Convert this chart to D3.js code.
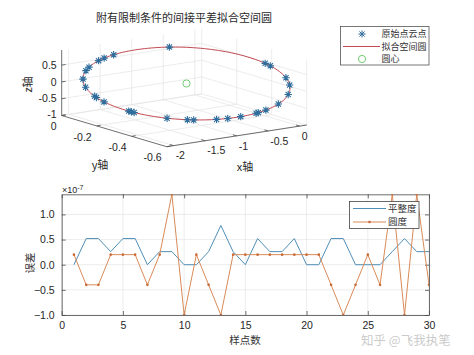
<!DOCTYPE html>
<html>
<head>
<meta charset="utf-8">
<script src="https://cdn.jsdelivr.net/npm/d3@7"></script>
<style>
  body { margin: 0; background: #fff; }
  svg { display: block; }
</style>
</head>
<body>
<div id="container"></div>
<script>
// ---- data: bottom chart (x1e-7) ----
const samples = [1, 2, 3, 4, 5, 6, 7, 8, 9, 10, 11, 12, 13, 14, 15, 16, 17, 18, 19, 20, 21, 22, 23, 24, 25, 26, 27, 28, 29, 30];
const flatness = [0, 0.52, 0.52, 0.26, 0.52, 0.52, 0, 0.26, 0.26, 0, 0, 0.26, 0.78, 0.26, 0,
                  0.52, 0.26, 0.26, 0.52, 0, 0, 0.52, 0.52, 0, 0, 0, 0.26, 0.52, 0.26, 0.26];
const roundness = [0.2, -0.4, -0.4, 0.2, 0.2, 0.2, -0.4, 0.2, 1.4, -1, 0.2, -0.4, -1, 0.2, 0.2,
                   0.2, 0.2, 0.2, 0.2, 0.2, 0.2, -0.4, -1, -0.4, 0.2, -0.4, 1.4, -1, 1.4, -0.4];
const xTicks = [0, 5, 10, 15, 20, 25, 30];
const yTicks = [-1, -0.5, 0, 0.5, 1];

// ---- data: 3D chart ----
const xLim = [-2.11, 0.11];
const yLim = [-0.6, 0];
const zLim = [-1, 0.95];
const xTicks3 = [-2, -1.5, -1, -0.5, 0];
const yTicks3 = [0, -0.2, -0.4, -0.6];
const zTicks3 = [-1, -0.5, 0, 0.5];
const circleCenter = [-1, -0.313, 0.114];
const circleU = [0.9944, -0.2331, -0.0595];
const circleV = [-0.0669, -0.0241, -1.0207];
// position of each raw point along the fitted circle (degrees)
const pointAngles = [10.6, 27.4, 39.9, 46.1, 47.7, 58.4, 66.5, 73.1, 86.0, 89.5, 100.8, 120.4, 122.2, 123.9,
                     142.8, 150.5, 152.5, 167.1, 180.0, 193.7, 199.7, 211.9, 217.3, 225.3, 260.5, 319.5,
                     324.1, 344.0, 355.4];

const cjk = "'Noto Sans CJK SC', sans-serif";
const num = "'Liberation Sans', Arial, sans-serif";

const svg = d3.select("#container").append("svg")
  .attr("width", 474)
  .attr("height", 355)
  .style("font-family", num);

// ================= 3D plot =================
const box = { ox: 61.7, oy: 115.5, ex: [140, -21.7], ey: [105, 31.2], ez: [0, -65.5] };
const xs = d3.scaleLinear().domain(xLim).range([0, 1]);
const ys = d3.scaleLinear().domain([yLim[1], yLim[0]]).range([0, 1]);
const zs = d3.scaleLinear().domain(zLim).range([0, 1]);

function proj(x, y, z) {
  const u = xs(x), v = ys(y), w = zs(z);
  return [box.ox + u * box.ex[0] + v * box.ey[0] + w * box.ez[0],
          box.oy + u * box.ex[1] + v * box.ey[1] + w * box.ez[1]];
}

const g3 = svg.append("g");
const seg = (p, q, color, w) => g3.append("line")
  .attr("x1", p[0]).attr("y1", p[1]).attr("x2", q[0]).attr("y2", q[1])
  .attr("stroke", color).attr("stroke-width", w);

const [x0, x1] = xLim, [y0, y1] = yLim, [z0, z1] = zLim;
const gridC = "#e4e4e4";

// floor grid
xTicks3.forEach(x => seg(proj(x, y1, z0), proj(x, y0, z0), gridC, 0.7));
yTicks3.forEach(y => seg(proj(x0, y, z0), proj(x1, y, z0), gridC, 0.7));
// back wall (y = 0)
xTicks3.forEach(x => seg(proj(x, y1, z0), proj(x, y1, z1), gridC, 0.7));
zTicks3.forEach(z => seg(proj(x0, y1, z), proj(x1, y1, z), gridC, 0.7));
// right wall (x = max)
yTicks3.forEach(y => seg(proj(x1, y, z0), proj(x1, y, z1), gridC, 0.7));
zTicks3.forEach(z => seg(proj(x1, y1, z), proj(x1, y0, z), gridC, 0.7));

// axis lines
const axC = "#4a4a4a";
seg(proj(x0, y1, z0), proj(x0, y1, z1), axC, 0.8);
seg(proj(x0, y1, z0), proj(x0, y0, z0), axC, 0.8);
seg(proj(x0, y0, z0), proj(x1, y0, z0), axC, 0.8);

const unit = v => { const l = Math.hypot(v[0], v[1]); return [v[0] / l, v[1] / l]; };
const ux = unit(box.ex), uy = unit([-box.ey[0], -box.ey[1]]);

zTicks3.forEach(z => {
  const p = proj(x0, y1, z);
  seg(p, [p[0] + ux[0] * 4, p[1] + ux[1] * 4], axC, 0.8);
  g3.append("text").attr("x", p[0] - 5).attr("y", p[1] - (z === -1 ? 1 : 0)).attr("dy", "0.35em")
    .attr("text-anchor", "end").attr("font-size", 10.5).attr("fill", "#262626").text(z);
});
yTicks3.forEach(y => {
  const p = proj(x0, y, z0);
  seg(p, [p[0] + ux[0] * 4, p[1] + ux[1] * 4], axC, 0.8);
  g3.append("text").attr("x", p[0] - 5).attr("y", p[1] + 11).attr("dy", "0.35em")
    .attr("text-anchor", "end").attr("font-size", 10.5).attr("fill", "#262626").text(y);
});
xTicks3.forEach(x => {
  const p = proj(x, y0, z0);
  seg(p, [p[0] + uy[0] * 4, p[1] + uy[1] * 4], axC, 0.8);
  g3.append("text").attr("x", p[0] + 2).attr("y", p[1] + 10).attr("dy", "0.35em")
    .attr("text-anchor", "start").attr("font-size", 10.5).attr("fill", "#262626").text(x);
});

// axis titles
g3.append("text").attr("x", 245).attr("y", 167).attr("dy", "0.35em").attr("text-anchor", "middle")
  .attr("font-size", 11).attr("fill", "#262626").style("font-family", cjk).text("x轴");
g3.append("text").attr("x", 100).attr("y", 165).attr("dy", "0.35em").attr("text-anchor", "middle")
  .attr("font-size", 11).attr("fill", "#262626").style("font-family", cjk).text("y轴");
g3.append("text").attr("transform", "translate(28,84.5) rotate(-90)").attr("dy", "0.35em")
  .attr("text-anchor", "middle").attr("font-size", 11).attr("fill", "#262626")
  .style("font-family", cjk).text("z轴");

// fitted circle
const rad = d => d * Math.PI / 180;
const circPt = deg => {
  const c = Math.cos(rad(deg)), s = Math.sin(rad(deg));
  return proj(circleCenter[0] + circleU[0] * c + circleV[0] * s,
              circleCenter[1] + circleU[1] * c + circleV[1] * s,
              circleCenter[2] + circleU[2] * c + circleV[2] * s);
};
g3.append("path")
  .attr("d", d3.line()(d3.range(0, 361, 2).map(circPt)))
  .attr("fill", "none").attr("stroke", "#c24a52").attr("stroke-width", 1);

// raw points (asterisks)
const starPath = r => {
  const k = r * Math.SQRT1_2;
  return `M${-r},0L${r},0M0,${-r}L0,${r}M${-k},${-k}L${k},${k}M${-k},${k}L${k},${-k}`;
};
g3.selectAll("path.star").data(pointAngles).enter().append("path")
  .attr("class", "star")
  .attr("transform", d => `translate(${circPt(d)})`)
  .attr("d", starPath(3.7))
  .attr("stroke", "#2f6d9c").attr("stroke-width", 1.1).attr("fill", "none");

// centre
const cp = proj(circleCenter[0], circleCenter[1], circleCenter[2]);
g3.append("circle").attr("cx", cp[0]).attr("cy", cp[1]).attr("r", 3.6)
  .attr("fill", "none").attr("stroke", "#74cc74").attr("stroke-width", 1);

// title
svg.append("text").attr("x", 184).attr("y", 18).attr("dy", "0.35em").attr("text-anchor", "middle")
  .attr("font-size", 11).attr("fill", "#2a2a2a").style("font-family", cjk)
  .text("附有限制条件的间接平差拟合空间圆");

// legend (3D)
const leg3 = svg.append("g");
leg3.append("rect").attr("x", 340.5).attr("y", 26.5).attr("width", 88.5).attr("height", 38.5)
  .attr("fill", "#fff").attr("stroke", "#555").attr("stroke-width", 0.8);
leg3.append("path").attr("transform", "translate(362,34)").attr("d", starPath(3.6))
  .attr("stroke", "#2f6d9c").attr("stroke-width", 1);
leg3.append("line").attr("x1", 343).attr("x2", 380).attr("y1", 46.5).attr("y2", 46.5)
  .attr("stroke", "#c24a52").attr("stroke-width", 1);
leg3.append("circle").attr("cx", 362).attr("cy", 59).attr("r", 3.6)
  .attr("fill", "none").attr("stroke", "#74cc74").attr("stroke-width", 1);
["原始点云点", "拟合空间圆", "圆心"].forEach((t, i) => {
  leg3.append("text").attr("x", 381.5).attr("y", 34 + i * 12.5).attr("dy", "0.35em")
    .attr("font-size", 9).attr("fill", "#333").style("font-family", cjk).text(t);
});

// ================= error plot =================
const pl = { left: 61.7, right: 429, top: 194.3, bottom: 315 };
const x = d3.scaleLinear().domain([0, 30]).range([pl.left, pl.right]);
const y = d3.scaleLinear().domain([-1, 1.4]).range([pl.bottom, pl.top]);

const g2 = svg.append("g");
g2.append("clipPath").attr("id", "clip").append("rect")
  .attr("x", pl.left).attr("y", pl.top).attr("width", pl.right - pl.left).attr("height", pl.bottom - pl.top);

// grid
g2.selectAll("line.gx").data(xTicks).enter().append("line")
  .attr("x1", d => x(d)).attr("x2", d => x(d)).attr("y1", pl.top).attr("y2", pl.bottom)
  .attr("stroke", gridC).attr("stroke-width", 0.7);
g2.selectAll("line.gy").data(yTicks).enter().append("line")
  .attr("x1", pl.left).attr("x2", pl.right).attr("y1", d => y(d)).attr("y2", d => y(d))
  .attr("stroke", gridC).attr("stroke-width", 0.7);

// axes with inward ticks
g2.append("g").attr("transform", `translate(0,${pl.bottom})`)
  .call(d3.axisBottom(x).tickValues(xTicks).tickSizeInner(-4).tickSizeOuter(0).tickPadding(7));
g2.append("g").attr("transform", `translate(${pl.left},0)`)
  .call(d3.axisLeft(y).tickValues(yTicks).tickSizeInner(-4).tickSizeOuter(0).tickPadding(7));
g2.append("g").attr("transform", `translate(0,${pl.top})`)
  .call(d3.axisTop(x).tickValues(xTicks).tickSizeInner(-4).tickSizeOuter(0).tickFormat(""));
g2.append("g").attr("transform", `translate(${pl.right},0)`)
  .call(d3.axisRight(y).tickValues(yTicks).tickSizeInner(-4).tickSizeOuter(0).tickFormat(""));
g2.selectAll(".domain").attr("stroke", "#4a4a4a").attr("stroke-width", 0.8);
g2.selectAll(".tick line").attr("stroke", "#4a4a4a").attr("stroke-width", 0.8);
g2.selectAll(".tick text").attr("font-size", 10.5).attr("fill", "#262626").style("font-family", num);

// series
const blue = "#4f8fb8", orange = "#d98a58";
const line = d3.line().x((d, i) => x(samples[i])).y(d => y(d));
const series = g2.append("g").attr("clip-path", "url(#clip)");
series.append("path").attr("d", line(flatness))
  .attr("fill", "none").attr("stroke", blue).attr("stroke-width", 1);
series.append("path").attr("d", line(roundness))
  .attr("fill", "none").attr("stroke", orange).attr("stroke-width", 1);
series.selectAll("circle").data(roundness).enter().append("circle")
  .attr("cx", (d, i) => x(samples[i])).attr("cy", d => y(d)).attr("r", 1.3)
  .attr("fill", "#c96a36");

// exponent
const ex = svg.append("text").attr("x", 62).attr("y", 190).attr("dy", "0.35em")
  .attr("font-size", 9).attr("fill", "#262626");
ex.append("tspan").text("×10");
ex.append("tspan").attr("font-size", 7).attr("dy", "-0.45em").text("-7");

// axis labels
svg.append("text").attr("transform", "translate(30,263) rotate(-90)").attr("dy", "0.35em")
  .attr("text-anchor", "middle").attr("font-size", 10.5).attr("fill", "#333")
  .style("font-family", cjk).text("误差");
svg.append("text").attr("x", 245).attr("y", 340.5).attr("dy", "0.35em")
  .attr("text-anchor", "middle").attr("font-size", 10.5).attr("fill", "#333")
  .style("font-family", cjk).text("样点数");

// legend (error plot)
const leg2 = svg.append("g");
leg2.append("rect").attr("x", 349.5).attr("y", 201.5).attr("width", 69.5).attr("height", 27)
  .attr("fill", "#fff").attr("stroke", "#444").attr("stroke-width", 0.8);
leg2.append("line").attr("x1", 353).attr("x2", 386).attr("y1", 208.5).attr("y2", 208.5)
  .attr("stroke", blue).attr("stroke-width", 1);
leg2.append("line").attr("x1", 353).attr("x2", 386).attr("y1", 222).attr("y2", 222)
  .attr("stroke", orange).attr("stroke-width", 1);
leg2.append("circle").attr("cx", 369.5).attr("cy", 222).attr("r", 1.3).attr("fill", "#c96a36");
["平整度", "圆度"].forEach((t, i) => {
  leg2.append("text").attr("x", 388).attr("y", 208.5 + i * 13.5).attr("dy", "0.35em")
    .attr("font-size", 9.5).attr("fill", "#333").style("font-family", cjk).text(t);
});

// watermark
svg.append("text").attr("x", 361).attr("y", 341).attr("dy", "0.35em")
  .attr("font-size", 12.5).attr("fill", "#c4c4c4").attr("fill-opacity", 0.9)
  .style("font-family", cjk).text("知乎 @飞我执笔");
</script>
</body>
</html>
